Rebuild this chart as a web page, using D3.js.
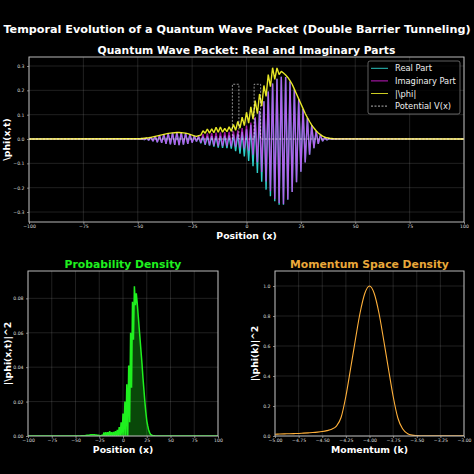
<!DOCTYPE html>
<html>
<head>
<meta charset="utf-8">
<script src="https://cdn.jsdelivr.net/npm/d3@7"></script>
<style>
  html, body { margin: 0; padding: 0; background: #000; }
  svg { display: block; font-family: "DejaVu Sans", sans-serif; }
</style>
</head>
<body>
<svg id="chart" width="474" height="474"></svg>
<script>
// Quantum wave packet, double barrier — 3 panels on black
// ------------------------------------------------------------------

// Sample positions for the packet (x = -50 .. 40, 1 unit apart);
// outside this range every trace sits on zero.
const posX = d3.range(-50, 41);

// |phi| upper / lower extent of its (fast) ripple
const phiHi = [
  0.001,0.001,0.002,0.003,0.004,0.005,0.007,0.009,0.011,0.013,
  0.015,0.017,0.019,0.021,0.023,0.024,0.025,0.026,0.027,0.027,
  0.026,0.025,0.024,0.022,0.019,0.016,0.013,0.011,0.014,0.022,
  0.034,0.040,0.041,0.040,0.042,0.045,0.048,0.050,0.049,0.046,
  0.044,0.046,0.050,0.055,0.060,0.065,0.072,0.080,0.090,0.100,
  0.110,0.120,0.132,0.145,0.158,0.170,0.185,0.200,0.220,0.243,
  0.265,0.283,0.293,0.296,0.292,0.285,0.278,0.271,0.263,0.253,
  0.240,0.225,0.205,0.185,0.165,0.145,0.125,0.105,0.088,0.072,
  0.057,0.045,0.034,0.025,0.018,0.012,0.008,0.005,0.003,0.002,
  0.001];
const phiLo = [
  0.001,0.001,0.002,0.003,0.004,0.005,0.007,0.009,0.011,0.013,
  0.015,0.017,0.019,0.021,0.023,0.024,0.025,0.026,0.027,0.027,
  0.026,0.025,0.024,0.022,0.019,0.016,0.013,0.011,0.012,0.016,
  0.022,0.024,0.025,0.024,0.025,0.026,0.027,0.028,0.028,0.028,
  0.029,0.030,0.030,0.032,0.035,0.036,0.040,0.045,0.050,0.055,
  0.060,0.065,0.072,0.082,0.092,0.104,0.118,0.135,0.155,0.175,
  0.195,0.215,0.232,0.245,0.256,0.265,0.272,0.271,0.263,0.253,
  0.240,0.225,0.205,0.185,0.165,0.145,0.125,0.105,0.088,0.072,
  0.057,0.045,0.034,0.025,0.018,0.012,0.008,0.005,0.003,0.002,
  0.001];

// Real part: crest / trough values
const reHi = [
  0.001,0.001,0.002,0.003,0.004,0.005,0.007,0.009,0.011,0.013,
  0.015,0.017,0.019,0.021,0.023,0.024,0.025,0.026,0.027,0.027,
  0.026,0.025,0.024,0.022,0.019,0.016,0.013,0.011,0.010,0.010,
  0.010,0.010,0.011,0.011,0.012,0.012,0.012,0.013,0.013,0.013,
  0.014,0.014,0.015,0.016,0.018,0.020,0.022,0.025,0.030,0.035,
  0.040,0.048,0.058,0.070,0.085,0.100,0.115,0.135,0.155,0.175,
  0.195,0.212,0.228,0.240,0.248,0.253,0.256,0.258,0.255,0.248,
  0.236,0.222,0.203,0.183,0.163,0.143,0.123,0.103,0.087,0.071,
  0.056,0.044,0.033,0.024,0.017,0.011,0.007,0.004,0.003,0.002,
  0.001];
const reLo = [
  -0.001,-0.001,-0.002,-0.003,-0.004,-0.005,-0.007,-0.009,-0.011,-0.013,
  -0.015,-0.016,-0.018,-0.020,-0.021,-0.022,-0.023,-0.024,-0.025,-0.025,
  -0.024,-0.023,-0.022,-0.020,-0.018,-0.015,-0.012,-0.010,-0.012,-0.018,
  -0.022,-0.024,-0.026,-0.027,-0.029,-0.031,-0.033,-0.035,-0.036,-0.036,
  -0.036,-0.037,-0.038,-0.040,-0.045,-0.050,-0.055,-0.060,-0.066,-0.072,
  -0.080,-0.090,-0.100,-0.112,-0.125,-0.140,-0.158,-0.176,-0.193,-0.208,
  -0.222,-0.235,-0.246,-0.256,-0.264,-0.270,-0.272,-0.270,-0.262,-0.250,
  -0.236,-0.218,-0.198,-0.178,-0.156,-0.134,-0.114,-0.096,-0.080,-0.064,
  -0.050,-0.038,-0.028,-0.020,-0.014,-0.009,-0.006,-0.004,-0.002,-0.001,
  -0.001];

// Imaginary part: crest / trough values
const imHi = [
  0.001,0.001,0.002,0.003,0.004,0.005,0.007,0.009,0.011,0.013,
  0.015,0.017,0.019,0.021,0.023,0.024,0.025,0.026,0.027,0.027,
  0.026,0.025,0.024,0.022,0.019,0.016,0.013,0.011,0.012,0.016,
  0.020,0.022,0.023,0.023,0.024,0.025,0.026,0.027,0.027,0.027,
  0.028,0.029,0.029,0.030,0.032,0.034,0.036,0.040,0.045,0.050,
  0.055,0.060,0.068,0.078,0.090,0.100,0.115,0.135,0.155,0.175,
  0.195,0.212,0.228,0.240,0.248,0.253,0.256,0.258,0.255,0.248,
  0.236,0.222,0.203,0.183,0.163,0.143,0.123,0.103,0.087,0.071,
  0.056,0.044,0.033,0.024,0.017,0.011,0.007,0.004,0.003,0.002,
  0.001];
const imLo = [
  -0.001,-0.001,-0.002,-0.003,-0.004,-0.005,-0.007,-0.009,-0.011,-0.013,
  -0.015,-0.016,-0.018,-0.020,-0.021,-0.022,-0.023,-0.024,-0.025,-0.025,
  -0.024,-0.023,-0.022,-0.020,-0.018,-0.015,-0.012,-0.010,-0.012,-0.016,
  -0.020,-0.022,-0.024,-0.025,-0.026,-0.027,-0.028,-0.029,-0.029,-0.029,
  -0.029,-0.029,-0.030,-0.030,-0.031,-0.032,-0.034,-0.036,-0.038,-0.040,
  -0.043,-0.048,-0.055,-0.065,-0.080,-0.095,-0.115,-0.135,-0.155,-0.175,
  -0.195,-0.215,-0.232,-0.246,-0.256,-0.263,-0.267,-0.267,-0.260,-0.248,
  -0.236,-0.218,-0.198,-0.178,-0.156,-0.134,-0.114,-0.096,-0.080,-0.064,
  -0.050,-0.038,-0.028,-0.020,-0.014,-0.009,-0.006,-0.004,-0.002,-0.001,
  -0.001];

// Probability density |phi|^2 : ripple top / bottom
const probHi = [
  0,0,0,0,0,0,0.0001,0.0001,0.0001,0.0002,
  0.0002,0.0003,0.0004,0.0004,0.0005,0.0006,0.0007,0.0007,0.0007,0.0007,
  0.0007,0.0006,0.0006,0.0005,0.0004,0.0003,0.0002,0.0002,0.0005,0.0014,
  0.0020,0.0024,0.0022,0.0020,0.0022,0.0026,0.0028,0.0025,0.0022,0.0020,
  0.0024,0.0030,0.0028,0.0030,0.0036,0.0045,0.0052,0.0065,0.0080,0.0100,
  0.0130,0.0160,0.0200,0.0250,0.0300,0.0350,0.0410,0.0500,0.0600,0.0700,
  0.0780,0.0830,0.0870,0.0880,0.0830,0.0770,0.0700,0.0630,0.0560,0.0490,
  0.0420,0.0340,0.0270,0.0200,0.0140,0.0090,0.0060,0.0035,0.0020,0.0010,
  0.0006,0.0003,0.0002,0.0001,0,0,0,0,0,0,
  0];
const probLo = [
  0,0,0,0,0,0,0.0001,0.0001,0.0001,0.0002,
  0.0002,0.0003,0.0004,0.0004,0.0005,0.0006,0.0007,0.0007,0.0007,0.0007,
  0.0007,0.0006,0.0006,0.0005,0.0004,0.0003,0.0002,0.0002,0.0001,0.0001,
  0.0001,0.0001,0.0001,0.0001,0.0001,0.0001,0.0001,0.0001,0.0001,0.0001,
  0.0001,0.0001,0.0001,0.0001,0.0001,0.0001,0.0001,0.0001,0.0001,0.0001,
  0.0001,0.0001,0.0001,0.0001,0.0001,0.0001,0.0020,0.0080,0.0160,0.0280,
  0.0420,0.0560,0.0680,0.0760,0.0800,0.0770,0.0700,0.0630,0.0560,0.0490,
  0.0420,0.0340,0.0270,0.0200,0.0140,0.0090,0.0060,0.0035,0.0020,0.0010,
  0.0006,0.0003,0.0002,0.0001,0,0,0,0,0,0,
  0];

// Potential V(x), scaled to the plot (two barriers)
const potX = [-100, -6.5, -6.5, -3.5, -3.5, 3.5, 3.5, 6.5, 6.5, 100];
const potV = [0, 0, 0.225, 0.225, 0, 0, 0.225, 0.225, 0, 0];

// Momentum space density
const momK = [-5.00,-4.95,-4.90,-4.85,-4.80,-4.75,-4.70,-4.65,-4.60,-4.55,
              -4.50,-4.45,-4.40,-4.35,-4.30,-4.25,-4.20,-4.15,-4.10,-4.05,
              -4.00,-3.95,-3.90,-3.85,-3.80,-3.75,-3.70,-3.65,-3.60,-3.55,
              -3.50,-3.45,-3.40,-3.35,-3.30,-3.25,-3.20,-3.15,-3.10,-3.05,-3.00];
const momP = [0.012,0.013,0.014,0.015,0.016,0.017,0.019,0.021,0.023,0.026,
              0.030,0.036,0.045,0.066,0.125,0.265,0.450,0.640,0.820,0.950,
              1.000,0.950,0.820,0.640,0.450,0.265,0.120,0.048,0.017,0.006,
              0.003,0.002,0.0015,0.001,0.001,0.001,0.001,0.001,0.001,0.001,0.001];

// Tick values
const posTicks  = [-100, -75, -50, -25, 0, 25, 50, 75, 100];
const phiTicks  = [-0.3, -0.2, -0.1, 0.0, 0.1, 0.2, 0.3];
const probTicks = [0.00, 0.02, 0.04, 0.06, 0.08];
const kTicks    = [-5.00, -4.75, -4.50, -4.25, -4.00, -3.75, -3.50, -3.25, -3.00];
const densTicks = [0.0, 0.2, 0.4, 0.6, 0.8, 1.0];

const legendLabels = ["Real Part", "Imaginary Part", "|\\phi|", "Potential V(x)"];

// Colours ----------------------------------------------------------
const C_RE   = "#33e6e0";
const C_IM   = "#ff22ff";
const C_PHI  = "#ffff2a";
const C_PROB = "#1ff01f";
const C_MOM  = "#ffb03a";

const svg = d3.select("#chart");
svg.append("rect").attr("width", 474).attr("height", 474).attr("fill", "#000");
const defs = svg.append("defs");

// Panel helper -----------------------------------------------------
let clipN = 0;
function panel(box, xDom, yDom, xTicks, yTicks, xFmt, yFmt) {
  const x = d3.scaleLinear().domain(xDom).range([box.x0, box.x1]);
  const y = d3.scaleLinear().domain(yDom).range([box.y1, box.y0]);
  const id = "clip" + (clipN++);
  defs.append("clipPath").attr("id", id).append("rect")
    .attr("x", box.x0).attr("y", box.y0)
    .attr("width", box.x1 - box.x0).attr("height", box.y1 - box.y0);

  const grid = svg.append("g").attr("stroke", "#b0b0b0")
    .attr("stroke-opacity", 0.3).attr("stroke-width", 0.6);
  grid.selectAll("line.v").data(xTicks).join("line").attr("class", "v")
    .attr("x1", d => x(d)).attr("x2", d => x(d))
    .attr("y1", box.y0).attr("y2", box.y1);
  grid.selectAll("line.h").data(yTicks).join("line").attr("class", "h")
    .attr("y1", d => y(d)).attr("y2", d => y(d))
    .attr("x1", box.x0).attr("x2", box.x1);

  const plot = svg.append("g").attr("clip-path", `url(#${id})`);

  const xa = svg.append("g").attr("transform", `translate(0,${box.y1})`)
    .call(d3.axisBottom(x).tickValues(xTicks).tickFormat(xFmt).tickSize(2).tickPadding(1.2));
  const ya = svg.append("g").attr("transform", `translate(${box.x0},0)`)
    .call(d3.axisLeft(y).tickValues(yTicks).tickFormat(yFmt).tickSize(2).tickPadding(2.5));
  [xa, ya].forEach(a => {
    a.select(".domain").remove();
    a.selectAll(".tick line").attr("stroke", "#cccccc").attr("stroke-width", 0.6);
    a.selectAll(".tick text").attr("fill", "#dddddd")
      .style("font-size", "4.6px").style("font-family", "DejaVu Sans");
  });

  return { x, y, plot, box };
}

function frame(p) {
  svg.append("rect").attr("x", p.box.x0).attr("y", p.box.y0)
    .attr("width", p.box.x1 - p.box.x0).attr("height", p.box.y1 - p.box.y0)
    .attr("fill", "none").attr("stroke", "#b8b8b8").attr("stroke-width", 1);
}

// Alternate crest/trough at each sample, pad with the flat zero ends
function ripple(hi, lo, phase) {
  const pts = posX.map((px, i) => [px, (i + phase) % 2 === 0 ? hi[i] : lo[i]]);
  return [[-100, 0], ...pts, [100, 0]];
}

function label(x, y, str, size, opts = {}) {
  return svg.append("text").attr("x", x).attr("y", y)
    .attr("text-anchor", opts.anchor || "middle")
    .attr("fill", opts.fill || "#ffffff")
    .style("font-size", size + "px")
    .style("font-weight", opts.bold === false ? 400 : 700)
    .attr("transform", opts.rotate ? `rotate(-90,${x},${y})` : null)
    .text(str);
}

// ------------------------------------------------------------------
// Top: real / imaginary parts
// ------------------------------------------------------------------
const wave = panel({ x0: 29, x1: 464, y0: 57, y1: 222 },
  [-100, 100], [-0.341, 0.337], posTicks, phiTicks, d3.format("d"), d3.format(".1f"));

const lineTop = d3.line().x(d => wave.x(d[0])).y(d => wave.y(d[1]));

wave.plot.append("path").attr("d", lineTop(ripple(reHi, reLo, 0)))
  .attr("fill", "none").attr("stroke", C_RE).attr("stroke-opacity", 0.9)
  .attr("stroke-width", 1.4).attr("stroke-linejoin", "bevel");
wave.plot.append("path").attr("d", lineTop(ripple(imHi, imLo, 0)))
  .attr("fill", "none").attr("stroke", C_IM).attr("stroke-opacity", 0.62)
  .attr("stroke-width", 1.4).attr("stroke-linejoin", "bevel");
wave.plot.append("path").attr("d", lineTop(ripple(phiHi, phiLo, 0)))
  .attr("fill", "none").attr("stroke", C_PHI).attr("stroke-opacity", 0.9)
  .attr("stroke-width", 1.4).attr("stroke-linejoin", "bevel");
wave.plot.append("path").attr("d", lineTop(potX.map((px, i) => [px, potV[i]])))
  .attr("fill", "none").attr("stroke", "#ffffff").attr("stroke-opacity", 0.7)
  .attr("stroke-width", 0.8).attr("stroke-dasharray", "2,1.5");
frame(wave);

// Legend -----------------------------------------------------------
const lg = svg.append("g");
lg.append("rect").attr("x", 368).attr("y", 61).attr("width", 92).attr("height", 53)
  .attr("rx", 2).attr("fill", "#000").attr("fill-opacity", 0.8)
  .attr("stroke", "#888").attr("stroke-width", 0.7);
const lgColors = [C_RE, C_IM, C_PHI, "#ffffff"];
const lgOpac = [0.85, 0.75, 0.8, 0.7];
legendLabels.forEach((lab, i) => {
  const cy = 68.3 + i * 12.6;
  lg.append("line").attr("x1", 371).attr("x2", 388).attr("y1", cy).attr("y2", cy)
    .attr("stroke", lgColors[i]).attr("stroke-opacity", lgOpac[i]).attr("stroke-width", 1)
    .attr("stroke-dasharray", i === 3 ? "2,1.5" : null);
  lg.append("text").attr("x", 395).attr("y", cy + 3).attr("fill", "#eeeeee")
    .style("font-size", "8.3px").text(lab);
});

label(237, 32.5, "Temporal Evolution of a Quantum Wave Packet (Double Barrier Tunneling)", 11.2);
label(246.5, 54, "Quantum Wave Packet: Real and Imaginary Parts", 10.75);
label(246.5, 239, "Position (x)", 9.3);
label(9.8, 139.5, "\\phi(x,t)", 9.3, { rotate: true });

// ------------------------------------------------------------------
// Bottom left: probability density
// ------------------------------------------------------------------
const pd = panel({ x0: 28, x1: 218, y0: 271, y1: 436 },
  [-100, 100], [0, 0.0959], posTicks, probTicks, d3.format("d"), d3.format(".2f"));

const probPts = ripple(probHi, probLo, 0);
pd.plot.append("path")
  .attr("d", d3.area().x(d => pd.x(d[0])).y0(pd.y(0)).y1(d => pd.y(d[1]))(probPts))
  .attr("fill", C_PROB).attr("fill-opacity", 0.3);
pd.plot.append("path")
  .attr("d", d3.line().x(d => pd.x(d[0])).y(d => pd.y(d[1]))(probPts))
  .attr("fill", "none").attr("stroke", C_PROB).attr("stroke-width", 1.5)
  .attr("stroke-linejoin", "bevel");
frame(pd);

label(123, 268, "Probability Density", 10.8, { fill: C_PROB });
label(123, 453, "Position (x)", 9.3);
label(11, 353.5, "|\\phi(x,t)|^2", 9.3, { rotate: true });

// ------------------------------------------------------------------
// Bottom right: momentum space density
// ------------------------------------------------------------------
const mp = panel({ x0: 275, x1: 464, y0: 271, y1: 436 },
  [-5, -3], [0, 1.1], kTicks, densTicks, d3.format(".2f"), d3.format(".1f"));

mp.plot.append("path")
  .attr("d", d3.line().curve(d3.curveMonotoneX)
    .x((d, i) => mp.x(momK[i])).y(d => mp.y(d))(momP))
  .attr("fill", "none").attr("stroke", C_MOM).attr("stroke-width", 1.1);
frame(mp);

label(369.5, 268, "Momentum Space Density", 10.8, { fill: "#eaa83a" });
label(369.5, 453, "Momentum (k)", 9.3);
label(258, 353.5, "|\\phi(k)|^2", 9.3, { rotate: true });
</script>
</body>
</html>
